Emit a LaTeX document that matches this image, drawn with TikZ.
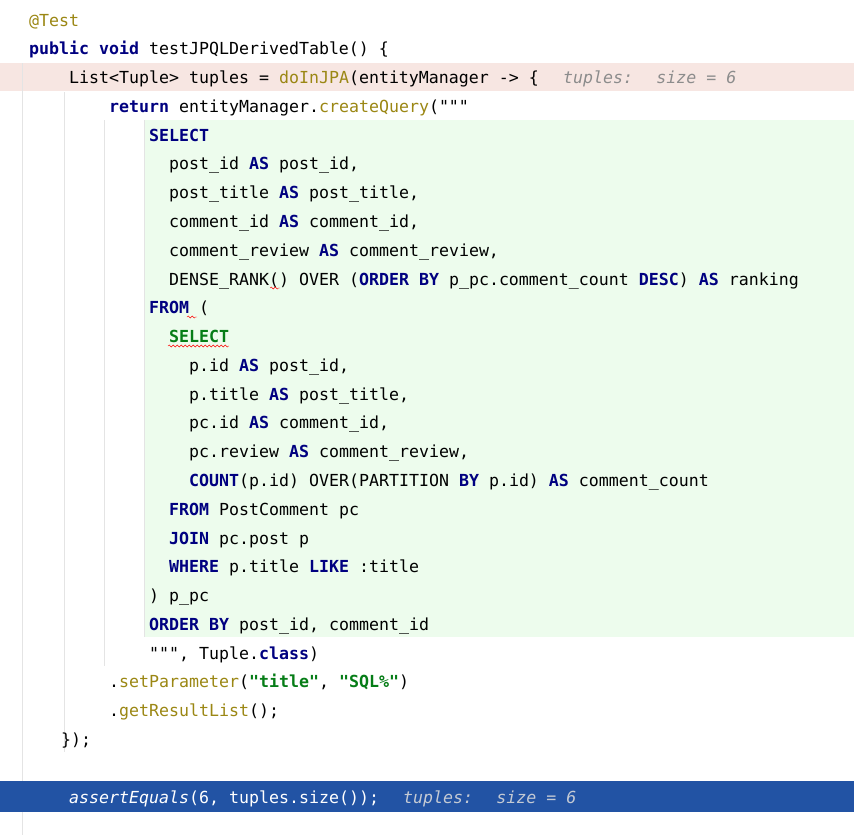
\documentclass[tikz,border=0pt]{standalone}
\usepackage{fontspec}
\usetikzlibrary{decorations.pathmorphing}
\newfontfamily\codefont{DejaVu Sans Mono}
\definecolor{kwc}{HTML}{000080}
\definecolor{mthc}{HTML}{9B8714}
\definecolor{strc}{HTML}{067D17}
\definecolor{hintc}{HTML}{8C8C8C}
\definecolor{pinkbg}{HTML}{F7E6E2}
\definecolor{greenbg}{HTML}{EDFCED}
\definecolor{bluebg}{HTML}{2253A4}
\definecolor{guidec}{HTML}{E4E4E4}
\newcommand{\kw}[1]{\textbf{\color{kwc}#1}}
\newcommand{\mt}[1]{{\color{mthc}#1}}
\newcommand{\st}[1]{\textbf{\color{strc}#1}}
\newcommand{\hn}[1]{{\itshape\color{hintc}#1}}
\tikzset{code/.style={anchor=base west,inner sep=0pt,font=\codefont\fontsize{16.6}{20}\selectfont}}
\newcommand{\cl}[3]{\node[code] (l#1) at ({29+10*#2},{26+28.78*#1}) {#3};}
\begin{document}
\begin{tikzpicture}[x=1pt,y=-1pt]
\useasboundingbox (0,0) rectangle (854,835);
\fill[white] (0,0) rectangle (854,835);
\fill[pinkbg] (0,63) rectangle (854,91);
\fill[greenbg] (144,120) rectangle (854,637);
\fill[bluebg] (0,781) rectangle (854,812);
\draw[guidec] (22,63) -- (22,781) (22,812) -- (22,835);
\draw[guidec] (64,92) -- (64,752);
\draw[guidec] (104,120) -- (104,666);
\draw[guidec] (144,120) -- (144,637);
\cl{0}{0}{\mt{@Test}}
\cl{1}{0}{\kw{public} \kw{void} testJPQLDerivedTable() \{}
\cl{2}{4}{List<Tuple> tuples = \mt{doInJPA}(entityManager -> \{}
\node[code] (h2) at (563,{26+28.78*2}) {\hn{tuples:~ size = 6}};
\cl{3}{8}{\kw{return} entityManager.\mt{createQuery}("""}
\cl{4}{12}{\kw{SELECT}}
\cl{5}{14}{post\_id \kw{AS} post\_id,}
\cl{6}{14}{post\_title \kw{AS} post\_title,}
\cl{7}{14}{comment\_id \kw{AS} comment\_id,}
\cl{8}{14}{comment\_review \kw{AS} comment\_review,}
\cl{9}{14}{DENSE\_RANK() OVER (\kw{ORDER} \kw{BY} p\_pc.comment\_count \kw{DESC}) \kw{AS} ranking}
\cl{10}{12}{\kw{FROM} (}
\cl{11}{14}{\st{SELECT}}
\cl{12}{16}{p.id \kw{AS} post\_id,}
\cl{13}{16}{p.title \kw{AS} post\_title,}
\cl{14}{16}{pc.id \kw{AS} comment\_id,}
\cl{15}{16}{pc.review \kw{AS} comment\_review,}
\cl{16}{16}{\kw{COUNT}(p.id) OVER(PARTITION \kw{BY} p.id) \kw{AS} comment\_count}
\cl{17}{14}{\kw{FROM} PostComment pc}
\cl{18}{14}{\kw{JOIN} pc.post p}
\cl{19}{14}{\kw{WHERE} p.title \kw{LIKE} :title}
\cl{20}{12}{) p\_pc}
\cl{21}{12}{\kw{ORDER} \kw{BY} post\_id, comment\_id}
\cl{22}{12}{""", Tuple.\kw{class})}
\cl{23}{8}{.\mt{setParameter}(\st{"title"}, \st{"SQL\%"})}
\cl{24}{8}{.\mt{getResultList}();}
\cl{25}{3.2}{\});}
\cl{27}{4}{\color{white}\itshape assertEquals\upshape(6, tuples.size());}
\node[code] (h27) at (403,{26+28.78*27}) {{\itshape\color{hintc!70!bluebg!40!white}tuples:~ size = 6}};
\draw[red,decorate,decoration={snake,amplitude=1pt,segment length=4pt}] (168,346) -- (229,346);
\draw[red,decorate,decoration={snake,amplitude=1pt,segment length=4pt}] (187,317) -- (197,317);
\draw[red,decorate,decoration={snake,amplitude=1pt,segment length=4pt}] (270,288) -- (280,288);
\end{tikzpicture}
\end{document}
